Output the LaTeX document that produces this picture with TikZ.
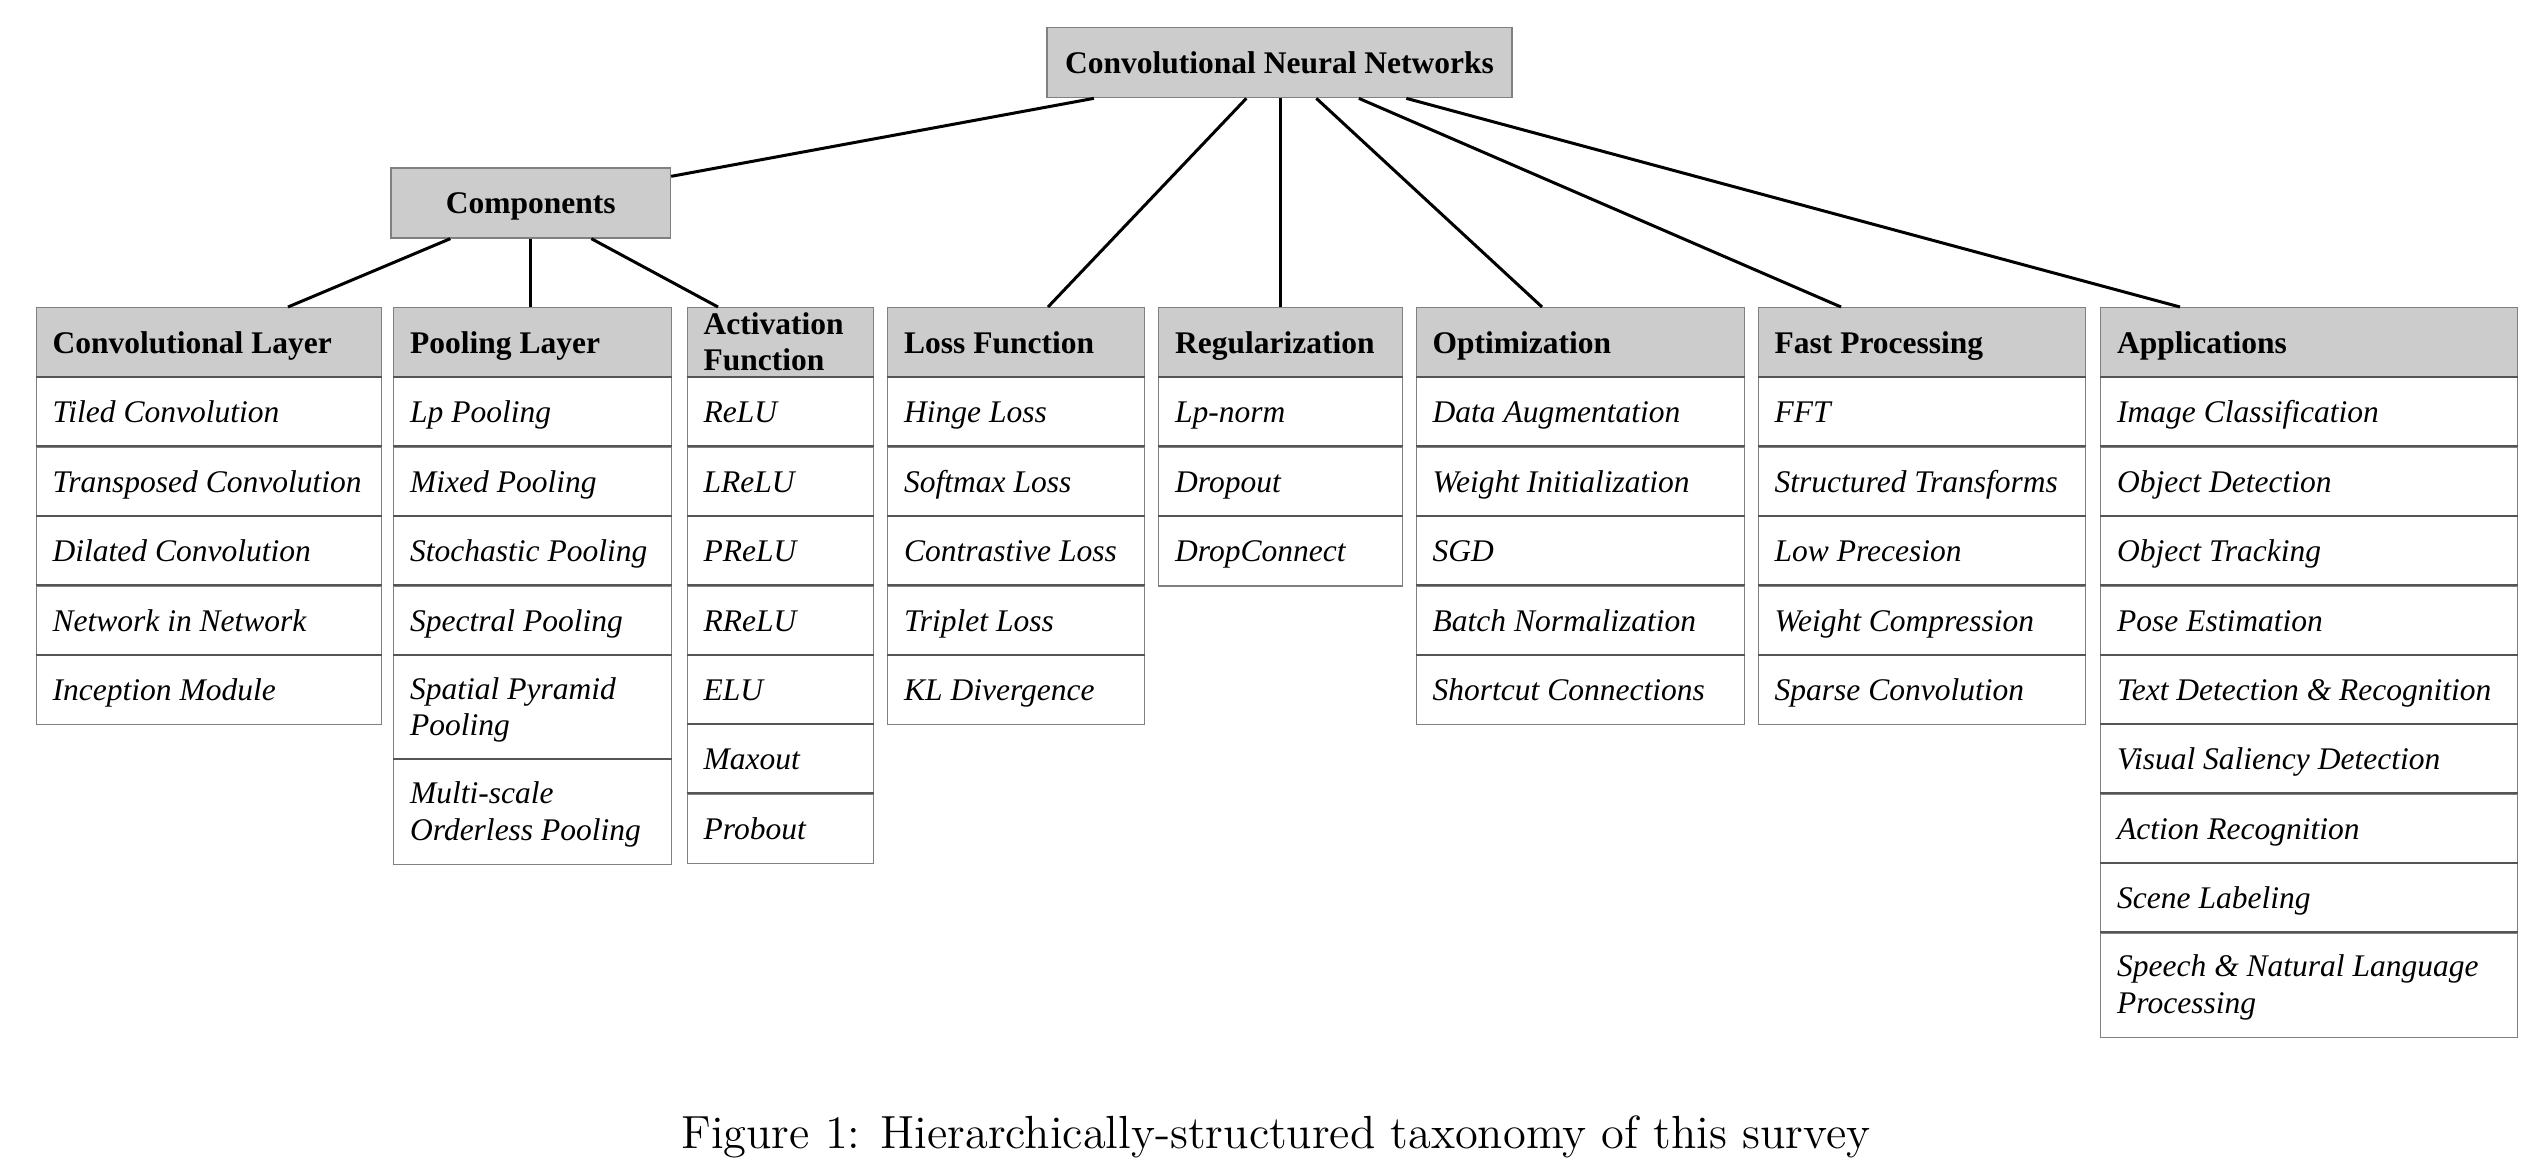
\documentclass[tikz,border=0pt]{standalone}
\usepackage{fontspec}
\newfontfamily\tms{Liberation Serif}
\usetikzlibrary{calc}
\definecolor{boxfill}{RGB}{204,204,204}
\definecolor{boxline}{RGB}{128,128,128}
\definecolor{sepcol}{RGB}{85,85,85}
\def\pxu{0.3pt}
\tikzset{
  cellbox/.style={draw=boxline, line width=0.4pt, inner sep=0pt, anchor=north west, minimum height=69.4*\pxu},
  headbox/.style={cellbox, fill=boxfill, minimum height=70*\pxu},
  sepline/.style={draw=sepcol, line width=0.55pt},
  itemtxt/.style={anchor=base west, inner sep=0pt, font=\tms\itshape\fontsize{9.45}{10.95}\selectfont},
  headtxt/.style={anchor=base west, inner sep=0pt, font=\tms\bfseries\fontsize{9.45}{10.95}\selectfont},
  topbox/.style={draw=boxline, line width=0.4pt, fill=boxfill, inner sep=0pt, text height=6.26pt, text depth=0pt, font=\tms\bfseries\fontsize{9.45}{10.95}\selectfont},
  conn/.style={draw=black, line width=0.9pt},
  captxt/.style={anchor=base, inner sep=0pt, font=\fontsize{13.95}{16}\selectfont},
}
\newcommand\hcell[4]{%
  \node[headbox, minimum width=#3*\pxu] (#1) at (#2,307) {};
  \node[headtxt] (#1-t) at ($(#1.north west)+(16.5,46)$) {#4};}
\newcommand\scell[5]{%
  \node[cellbox, minimum width=#4*\pxu] (#1) at (#2,{377+69.4*#3}) {};
  \draw[sepline] (#1.north west) -- (#1.north east);
  \node[itemtxt] (#1-t) at ($(#1.north west)+(16.5,45.8)$) {#5};}
\newcommand\dcell[6]{%
  \node[cellbox, minimum width=#4*\pxu, minimum height=104.5*\pxu] (#1) at (#2,#3) {};
  \draw[sepline] (#1.north west) -- (#1.north east);
  \node[itemtxt] (#1-t) at ($(#1.north west)+(16.5,44.5)$) {\begin{tabular}[t]{@{}l@{}}#5\\#6\end{tabular}};}
\begin{document}
\begin{tikzpicture}[x=0.3pt,y=-0.3pt]
\useasboundingbox (0,0) rectangle (2546,1170);
% top nodes
\node[topbox, minimum width=465*\pxu, minimum height=70*\pxu] (cnn) at (1279.5,62.7) {Convolutional Neural Networks};
\node[topbox, minimum width=279.5*\pxu, minimum height=70*\pxu] (comp) at (530.75,203) {Components};
% headers
\hcell{h1}{35.5}{345.5}{Convolutional Layer}
\hcell{h2}{393}{278}{Pooling Layer}
\node[headbox, minimum width=186*\pxu] (h3) at (686.5,307) {};
\node[headtxt] (h3-t) at ($(h3.north west)+(16.5,27.3)$) {\begin{tabular}[t]{@{}l@{}}Activation\\Function\end{tabular}};
\hcell{h4}{887}{257}{Loss Function}
\hcell{h5}{1158}{243.5}{Regularization}
\hcell{h6}{1415.5}{328}{Optimization}
\hcell{h7}{1757.5}{327.5}{Fast Processing}
\hcell{h8}{2100}{417}{Applications}
% Convolutional layer
\scell{c1a}{35.5}{0}{345.5}{Tiled Convolution}
\scell{c1b}{35.5}{1}{345.5}{Transposed Convolution}
\scell{c1c}{35.5}{2}{345.5}{Dilated Convolution}
\scell{c1d}{35.5}{3}{345.5}{Network in Network}
\scell{c1e}{35.5}{4}{345.5}{Inception Module}
% Pooling layer
\scell{c2a}{393}{0}{278}{Lp Pooling}
\scell{c2b}{393}{1}{278}{Mixed Pooling}
\scell{c2c}{393}{2}{278}{Stochastic Pooling}
\scell{c2d}{393}{3}{278}{Spectral Pooling}
\dcell{c2e}{393}{654.6}{278}{Spatial Pyramid}{Pooling}
\dcell{c2f}{393}{759.1}{278}{Multi-scale}{Orderless Pooling}
% Activation
\scell{c3a}{686.5}{0}{186}{ReLU}
\scell{c3b}{686.5}{1}{186}{LReLU}
\scell{c3c}{686.5}{2}{186}{PReLU}
\scell{c3d}{686.5}{3}{186}{RReLU}
\scell{c3e}{686.5}{4}{186}{ELU}
\scell{c3f}{686.5}{5}{186}{Maxout}
\scell{c3g}{686.5}{6}{186}{Probout}
% Loss
\scell{c4a}{887}{0}{257}{Hinge Loss}
\scell{c4b}{887}{1}{257}{Softmax Loss}
\scell{c4c}{887}{2}{257}{Contrastive Loss}
\scell{c4d}{887}{3}{257}{Triplet Loss}
\scell{c4e}{887}{4}{257}{KL Divergence}
% Regularization
\scell{c5a}{1158}{0}{243.5}{Lp-norm}
\scell{c5b}{1158}{1}{243.5}{Dropout}
\scell{c5c}{1158}{2}{243.5}{DropConnect}
% Optimization
\scell{c6a}{1415.5}{0}{328}{Data Augmentation}
\scell{c6b}{1415.5}{1}{328}{Weight Initialization}
\scell{c6c}{1415.5}{2}{328}{SGD}
\scell{c6d}{1415.5}{3}{328}{Batch Normalization}
\scell{c6e}{1415.5}{4}{328}{Shortcut Connections}
% Fast processing
\scell{c7a}{1757.5}{0}{327.5}{FFT}
\scell{c7b}{1757.5}{1}{327.5}{Structured Transforms}
\scell{c7c}{1757.5}{2}{327.5}{Low Precesion}
\scell{c7d}{1757.5}{3}{327.5}{Weight Compression}
\scell{c7e}{1757.5}{4}{327.5}{Sparse Convolution}
% Applications
\scell{c8a}{2100}{0}{417}{Image Classification}
\scell{c8b}{2100}{1}{417}{Object Detection}
\scell{c8c}{2100}{2}{417}{Object Tracking}
\scell{c8d}{2100}{3}{417}{Pose Estimation}
\scell{c8e}{2100}{4}{417}{Text Detection \& Recognition}
\scell{c8f}{2100}{5}{417}{Visual Saliency Detection}
\scell{c8g}{2100}{6}{417}{Action Recognition}
\scell{c8h}{2100}{7}{417}{Scene Labeling}
\dcell{c8i}{2100}{932.2}{417}{Speech \& Natural Language}{Processing}
% connectors
\draw[conn] ($(cnn.south west)+(47.5,0)$) -- ($(comp.north east)+(0,9)$);
\draw[conn] ($(cnn.south west)+(200,0)$) -- ($(h4.north west)+(161,0)$);
\draw[conn] (h5.north |- cnn.south) -- (h5.north);
\draw[conn] ($(cnn.south west)+(270,0)$) -- ($(h6.north west)+(126.5,0)$);
\draw[conn] ($(cnn.south west)+(312.5,0)$) -- ($(h7.north west)+(83.5,0)$);
\draw[conn] ($(cnn.south west)+(360,0)$) -- ($(h8.north west)+(80,0)$);
\draw[conn] ($(comp.south west)+(60,0)$) -- ($(h1.north west)+(252.5,0)$);
\draw[conn] (comp.south) -- (comp.south |- h2.north);
\draw[conn] ($(comp.south west)+(201,0)$) -- ($(h3.north west)+(31.5,0)$);
% caption
\node[captxt] (cap) at (1276,1148) {Figure 1: Hierarchically-structured taxonomy of this survey};
\end{tikzpicture}
\end{document}
